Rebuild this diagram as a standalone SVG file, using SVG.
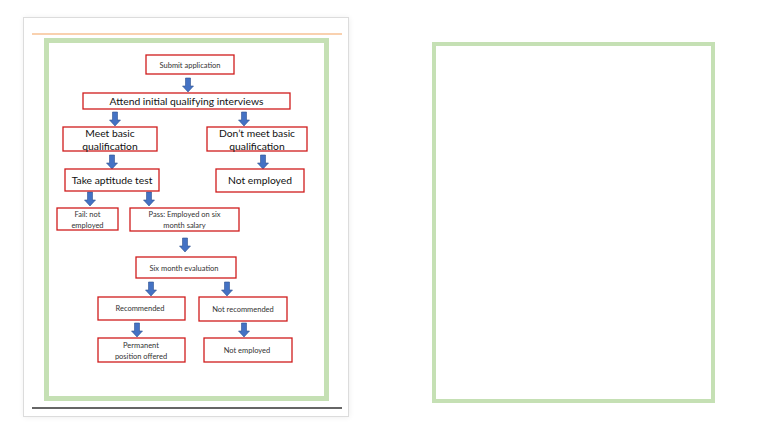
<svg xmlns="http://www.w3.org/2000/svg" width="768" height="433" viewBox="0 0 768 433">
<defs>
<style>
.box{fill:#fff;stroke:#d01c1c;stroke-width:1.3}
.big{font-family:Lato,"Open Sans",sans-serif;font-size:10.3px;fill:#111;text-anchor:middle}
.sm{font-family:Lato,"Open Sans",sans-serif;font-size:7.5px;fill:#333;text-anchor:middle}
.arr{fill:#4472c4;stroke:#2f528f;stroke-width:0.6}
</style>
<path id="arr" class="arr" d="M-2.5,0 H2.5 V8 H5.5 L0,14 L-5.5,8 H-2.5 Z"/>
<filter id="sh" x="-5%" y="-5%" width="110%" height="110%"><feGaussianBlur stdDeviation="3"/></filter>
</defs>
<rect width="768" height="433" fill="#fff"/>
<rect x="24" y="18" width="325" height="399" fill="#000" opacity="0.08" filter="url(#sh)"/>
<rect x="23.5" y="17.5" width="325" height="399" fill="#fff" stroke="#dcdcdc" stroke-width="1"/>
<line x1="32" y1="34" x2="342" y2="34" stroke="#f4a460" stroke-width="1.2"/>
<line x1="32" y1="408" x2="342" y2="408" stroke="#333" stroke-width="1.3"/>
<rect x="46.5" y="40.5" width="280" height="358" fill="none" stroke="#c5e0b4" stroke-width="5"/>
<rect x="434" y="44" width="279" height="357" fill="none" stroke="#c5e0b4" stroke-width="4"/>

<g id="connectors">
<use href="#arr" x="188" y="78"/>
<use href="#arr" x="115" y="112"/>
<use href="#arr" x="244" y="112"/>
<use href="#arr" x="112" y="155"/>
<use href="#arr" x="263" y="155"/>
<use href="#arr" x="90" y="192"/>
<use href="#arr" x="149" y="192"/>
<use href="#arr" x="185" y="238"/>
<use href="#arr" x="151" y="282"/>
<use href="#arr" x="227" y="282"/>
<use href="#arr" x="137" y="323"/>
<use href="#arr" x="244" y="323"/>
</g>

<g id="submit"><rect class="box" x="146" y="55" width="88" height="19"/><text class="sm" x="190" y="67.5">Submit application</text></g>
<g id="attend"><rect class="box" x="83" y="93" width="207" height="16"/><text class="big" x="186.5" y="104.5">Attend initial qualifying interviews</text></g>
<g id="meet"><rect class="box" x="63" y="127" width="94" height="24"/><text class="big" x="110" y="137">Meet basic</text><text class="big" x="110" y="149.5">qualification</text></g>
<g id="dontmeet"><rect class="box" x="207" y="127" width="100" height="24"/><text class="big" x="257" y="137">Don’t meet basic</text><text class="big" x="257" y="149.5">qualification</text></g>
<g id="aptitude"><rect class="box" x="65" y="169" width="94" height="22"/><text class="big" x="112" y="183.5">Take aptitude test</text></g>
<g id="notemployed1"><rect class="box" x="216" y="169" width="88" height="23"/><text class="big" x="260" y="184">Not employed</text></g>
<g id="fail"><rect class="box" x="57" y="208" width="61" height="22"/><text class="sm" x="87.5" y="216.5">Fail: not</text><text class="sm" x="87.5" y="227.5">employed</text></g>
<g id="pass"><rect class="box" x="130" y="208" width="109" height="23"/><text class="sm" x="184.5" y="217">Pass: Employed on six</text><text class="sm" x="184.5" y="228">month salary</text></g>
<g id="sixmonth"><rect class="box" x="136" y="257" width="100" height="21"/><text class="sm" x="184" y="270.5">Six month evaluation</text></g>
<g id="recommended"><rect class="box" x="98" y="297" width="87" height="23"/><text class="sm" x="140" y="311">Recommended</text></g>
<g id="notrecommended"><rect class="box" x="199" y="297" width="88" height="24"/><text class="sm" x="243" y="312">Not recommended</text></g>
<g id="permanent"><rect class="box" x="98" y="338" width="87" height="24"/><text class="sm" x="141" y="347.5">Permanent</text><text class="sm" x="141" y="359">position offered</text></g>
<g id="notemployed2"><rect class="box" x="204" y="338" width="88" height="24"/><text class="sm" x="247" y="352.5">Not employed</text></g>
</svg>
